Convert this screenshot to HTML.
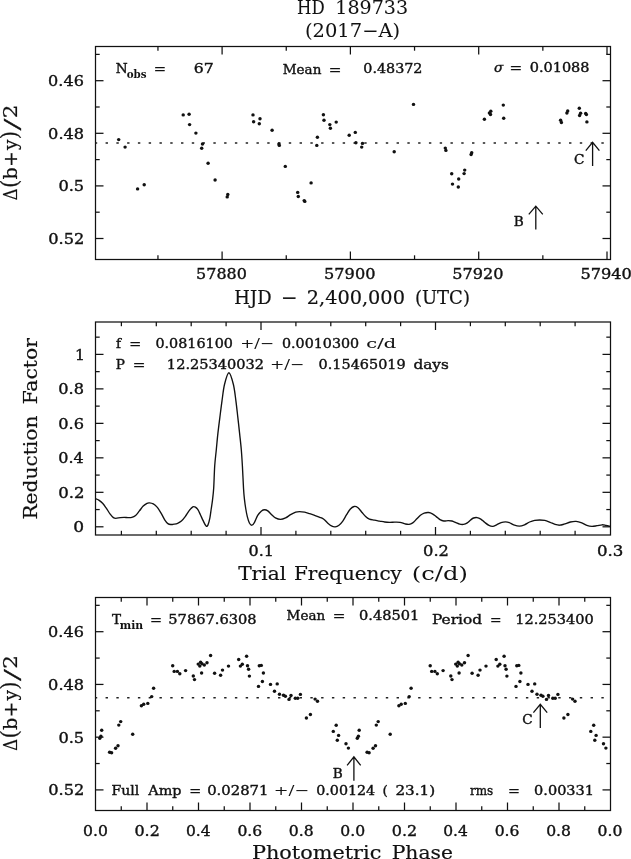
<!DOCTYPE html>
<html><head><meta charset="utf-8"><title>HD 189733 (2017-A)</title>
<style>
html,body{margin:0;padding:0;background:#fff;}
body{width:631px;height:859px;overflow:hidden;}
svg{display:block;}
text{font-family:"DejaVu Serif", "Liberation Serif", serif;fill:#111;stroke:#111;stroke-width:0.4px;}
</style></head><body>
<svg width="631" height="859" viewBox="0 0 631 859">
<rect width="631" height="859" fill="#fff"/>
<g stroke="#111" stroke-width="1.25" fill="none">
<rect x="95.5" y="46.5" width="515.00" height="213.00" fill="none"/>
<path d="M95.50 80.70L103.50 80.70"/>
<path d="M610.50 80.70L602.50 80.70"/>
<path d="M95.50 133.30L103.50 133.30"/>
<path d="M610.50 133.30L602.50 133.30"/>
<path d="M95.50 185.90L103.50 185.90"/>
<path d="M610.50 185.90L602.50 185.90"/>
<path d="M95.50 238.50L103.50 238.50"/>
<path d="M610.50 238.50L602.50 238.50"/>
<path d="M95.50 54.40L99.70 54.40"/>
<path d="M610.50 54.40L606.30 54.40"/>
<path d="M95.50 107.00L99.70 107.00"/>
<path d="M610.50 107.00L606.30 107.00"/>
<path d="M95.50 159.60L99.70 159.60"/>
<path d="M610.50 159.60L606.30 159.60"/>
<path d="M95.50 212.20L99.70 212.20"/>
<path d="M610.50 212.20L606.30 212.20"/>
<path d="M222.10 259.50L222.10 251.50"/>
<path d="M222.10 46.50L222.10 54.50"/>
<path d="M350.40 259.50L350.40 251.50"/>
<path d="M350.40 46.50L350.40 54.50"/>
<path d="M478.70 259.50L478.70 251.50"/>
<path d="M478.70 46.50L478.70 54.50"/>
<path d="M607.00 259.50L607.00 251.50"/>
<path d="M607.00 46.50L607.00 54.50"/>
<path d="M157.95 259.50L157.95 255.30"/>
<path d="M157.95 46.50L157.95 50.70"/>
<path d="M286.25 259.50L286.25 255.30"/>
<path d="M286.25 46.50L286.25 50.70"/>
<path d="M414.55 259.50L414.55 255.30"/>
<path d="M414.55 46.50L414.55 50.70"/>
<path d="M542.85 259.50L542.85 255.30"/>
<path d="M542.85 46.50L542.85 50.70"/>
<rect x="95.5" y="322.0" width="515.00" height="213.00" fill="none"/>
<path d="M95.50 526.80L103.50 526.80"/>
<path d="M610.50 526.80L602.50 526.80"/>
<path d="M95.50 492.32L103.50 492.32"/>
<path d="M610.50 492.32L602.50 492.32"/>
<path d="M95.50 457.84L103.50 457.84"/>
<path d="M610.50 457.84L602.50 457.84"/>
<path d="M95.50 423.36L103.50 423.36"/>
<path d="M610.50 423.36L602.50 423.36"/>
<path d="M95.50 388.88L103.50 388.88"/>
<path d="M610.50 388.88L602.50 388.88"/>
<path d="M95.50 354.40L103.50 354.40"/>
<path d="M610.50 354.40L602.50 354.40"/>
<path d="M95.50 509.56L99.70 509.56"/>
<path d="M610.50 509.56L606.30 509.56"/>
<path d="M95.50 475.08L99.70 475.08"/>
<path d="M610.50 475.08L606.30 475.08"/>
<path d="M95.50 440.60L99.70 440.60"/>
<path d="M610.50 440.60L606.30 440.60"/>
<path d="M95.50 406.12L99.70 406.12"/>
<path d="M610.50 406.12L606.30 406.12"/>
<path d="M95.50 371.64L99.70 371.64"/>
<path d="M610.50 371.64L606.30 371.64"/>
<path d="M95.50 337.16L99.70 337.16"/>
<path d="M610.50 337.16L606.30 337.16"/>
<path d="M261.00 535.00L261.00 527.00"/>
<path d="M261.00 322.00L261.00 330.00"/>
<path d="M435.50 535.00L435.50 527.00"/>
<path d="M435.50 322.00L435.50 330.00"/>
<path d="M121.40 535.00L121.40 530.80"/>
<path d="M121.40 322.00L121.40 326.20"/>
<path d="M156.30 535.00L156.30 530.80"/>
<path d="M156.30 322.00L156.30 326.20"/>
<path d="M191.20 535.00L191.20 530.80"/>
<path d="M191.20 322.00L191.20 326.20"/>
<path d="M226.10 535.00L226.10 530.80"/>
<path d="M226.10 322.00L226.10 326.20"/>
<path d="M295.90 535.00L295.90 530.80"/>
<path d="M295.90 322.00L295.90 326.20"/>
<path d="M330.80 535.00L330.80 530.80"/>
<path d="M330.80 322.00L330.80 326.20"/>
<path d="M365.70 535.00L365.70 530.80"/>
<path d="M365.70 322.00L365.70 326.20"/>
<path d="M400.60 535.00L400.60 530.80"/>
<path d="M400.60 322.00L400.60 326.20"/>
<path d="M470.40 535.00L470.40 530.80"/>
<path d="M470.40 322.00L470.40 326.20"/>
<path d="M505.30 535.00L505.30 530.80"/>
<path d="M505.30 322.00L505.30 326.20"/>
<path d="M540.20 535.00L540.20 530.80"/>
<path d="M540.20 322.00L540.20 326.20"/>
<path d="M575.10 535.00L575.10 530.80"/>
<path d="M575.10 322.00L575.10 326.20"/>
<rect x="95.5" y="597.5" width="515.00" height="213.00" fill="none"/>
<path d="M95.50 631.70L103.50 631.70"/>
<path d="M610.50 631.70L602.50 631.70"/>
<path d="M95.50 684.43L103.50 684.43"/>
<path d="M610.50 684.43L602.50 684.43"/>
<path d="M95.50 737.17L103.50 737.17"/>
<path d="M610.50 737.17L602.50 737.17"/>
<path d="M95.50 789.90L103.50 789.90"/>
<path d="M610.50 789.90L602.50 789.90"/>
<path d="M95.50 605.33L99.70 605.33"/>
<path d="M610.50 605.33L606.30 605.33"/>
<path d="M95.50 658.07L99.70 658.07"/>
<path d="M610.50 658.07L606.30 658.07"/>
<path d="M95.50 710.80L99.70 710.80"/>
<path d="M610.50 710.80L606.30 710.80"/>
<path d="M95.50 763.53L99.70 763.53"/>
<path d="M610.50 763.53L606.30 763.53"/>
<path d="M147.00 810.50L147.00 802.50"/>
<path d="M147.00 597.50L147.00 605.50"/>
<path d="M198.50 810.50L198.50 802.50"/>
<path d="M198.50 597.50L198.50 605.50"/>
<path d="M250.00 810.50L250.00 802.50"/>
<path d="M250.00 597.50L250.00 605.50"/>
<path d="M301.50 810.50L301.50 802.50"/>
<path d="M301.50 597.50L301.50 605.50"/>
<path d="M353.00 810.50L353.00 802.50"/>
<path d="M353.00 597.50L353.00 605.50"/>
<path d="M404.50 810.50L404.50 802.50"/>
<path d="M404.50 597.50L404.50 605.50"/>
<path d="M456.00 810.50L456.00 802.50"/>
<path d="M456.00 597.50L456.00 605.50"/>
<path d="M507.50 810.50L507.50 802.50"/>
<path d="M507.50 597.50L507.50 605.50"/>
<path d="M559.00 810.50L559.00 802.50"/>
<path d="M559.00 597.50L559.00 605.50"/>
<path d="M121.25 810.50L121.25 806.30"/>
<path d="M121.25 597.50L121.25 601.70"/>
<path d="M172.75 810.50L172.75 806.30"/>
<path d="M172.75 597.50L172.75 601.70"/>
<path d="M224.25 810.50L224.25 806.30"/>
<path d="M224.25 597.50L224.25 601.70"/>
<path d="M275.75 810.50L275.75 806.30"/>
<path d="M275.75 597.50L275.75 601.70"/>
<path d="M327.25 810.50L327.25 806.30"/>
<path d="M327.25 597.50L327.25 601.70"/>
<path d="M378.75 810.50L378.75 806.30"/>
<path d="M378.75 597.50L378.75 601.70"/>
<path d="M430.25 810.50L430.25 806.30"/>
<path d="M430.25 597.50L430.25 601.70"/>
<path d="M481.75 810.50L481.75 806.30"/>
<path d="M481.75 597.50L481.75 601.70"/>
<path d="M533.25 810.50L533.25 806.30"/>
<path d="M533.25 597.50L533.25 601.70"/>
<path d="M584.75 810.50L584.75 806.30"/>
<path d="M584.75 597.50L584.75 601.70"/>
</g>
<path d="M95.50 142.90H97.20 M105.58 142.90H107.98 M116.36 142.90H118.76 M127.13 142.90H129.53 M137.91 142.90H140.31 M148.69 142.90H151.09 M159.47 142.90H161.87 M170.25 142.90H172.65 M181.02 142.90H183.42 M191.80 142.90H194.20 M202.58 142.90H204.98 M213.36 142.90H215.76 M224.14 142.90H226.54 M234.91 142.90H237.31 M245.69 142.90H248.09 M256.47 142.90H258.87 M267.25 142.90H269.65 M278.03 142.90H280.43 M288.80 142.90H291.20 M299.58 142.90H301.98 M310.36 142.90H312.76 M321.14 142.90H323.54 M331.92 142.90H334.32 M342.69 142.90H345.09 M353.47 142.90H355.87 M364.25 142.90H366.65 M375.03 142.90H377.43 M385.81 142.90H388.21 M396.58 142.90H398.98 M407.36 142.90H409.76 M418.14 142.90H420.54 M428.92 142.90H431.32 M439.70 142.90H442.10 M450.47 142.90H452.87 M461.25 142.90H463.65 M472.03 142.90H474.43 M482.81 142.90H485.21 M493.59 142.90H495.99 M504.36 142.90H506.76 M515.14 142.90H517.54 M525.92 142.90H528.32 M536.70 142.90H539.10 M547.48 142.90H549.88 M558.25 142.90H560.65 M569.03 142.90H571.43 M579.81 142.90H582.21 M590.59 142.90H592.99 M601.37 142.90H603.77 M95.50 697.70H97.20 M105.58 697.70H107.98 M116.36 697.70H118.76 M127.13 697.70H129.53 M137.91 697.70H140.31 M148.69 697.70H151.09 M159.47 697.70H161.87 M170.25 697.70H172.65 M181.02 697.70H183.42 M191.80 697.70H194.20 M202.58 697.70H204.98 M213.36 697.70H215.76 M224.14 697.70H226.54 M234.91 697.70H237.31 M245.69 697.70H248.09 M256.47 697.70H258.87 M267.25 697.70H269.65 M278.03 697.70H280.43 M288.80 697.70H291.20 M299.58 697.70H301.98 M310.36 697.70H312.76 M321.14 697.70H323.54 M331.92 697.70H334.32 M342.69 697.70H345.09 M353.47 697.70H355.87 M364.25 697.70H366.65 M375.03 697.70H377.43 M385.81 697.70H388.21 M396.58 697.70H398.98 M407.36 697.70H409.76 M418.14 697.70H420.54 M428.92 697.70H431.32 M439.70 697.70H442.10 M450.47 697.70H452.87 M461.25 697.70H463.65 M472.03 697.70H474.43 M482.81 697.70H485.21 M493.59 697.70H495.99 M504.36 697.70H506.76 M515.14 697.70H517.54 M525.92 697.70H528.32 M536.70 697.70H539.10 M547.48 697.70H549.88 M558.25 697.70H560.65 M569.03 697.70H571.43 M579.81 697.70H582.21 M590.59 697.70H592.99 M601.37 697.70H603.77" stroke="#222" stroke-width="1.5" fill="none"/>
<path d="M95.40 498.70C95.97 498.93 97.60 499.33 98.80 500.10C100.00 500.87 101.33 501.92 102.60 503.30C103.87 504.68 105.13 506.60 106.40 508.40C107.67 510.20 109.03 512.57 110.20 514.10C111.37 515.63 112.45 516.90 113.40 517.60C114.35 518.30 114.73 518.30 115.90 518.30C117.07 518.30 119.02 517.75 120.40 517.60C121.78 517.45 122.93 517.40 124.20 517.40C125.47 517.40 126.73 517.60 128.00 517.60C129.27 517.60 130.53 517.77 131.80 517.40C133.07 517.03 134.33 516.48 135.60 515.40C136.87 514.32 138.13 512.45 139.40 510.90C140.67 509.35 141.93 507.37 143.20 506.10C144.47 504.83 145.95 503.83 147.00 503.30C148.05 502.77 148.45 502.80 149.50 502.90C150.55 503.00 152.03 503.20 153.30 503.90C154.57 504.60 155.83 505.62 157.10 507.10C158.37 508.58 159.63 510.68 160.90 512.80C162.17 514.92 163.53 518.00 164.70 519.80C165.87 521.60 166.83 522.82 167.90 523.60C168.97 524.38 170.12 524.40 171.10 524.50C172.08 524.60 172.72 524.40 173.80 524.20C174.88 524.00 176.33 523.82 177.60 523.30C178.87 522.78 180.13 522.22 181.40 521.10C182.67 519.98 183.93 518.30 185.20 516.60C186.47 514.90 187.73 512.52 189.00 510.90C190.27 509.28 191.73 507.53 192.80 506.90C193.87 506.27 194.55 506.63 195.40 507.10C196.25 507.57 197.07 508.43 197.90 509.70C198.73 510.97 199.55 512.92 200.40 514.70C201.25 516.48 202.05 518.50 203.00 520.40C203.95 522.30 205.27 525.35 206.10 526.10C206.93 526.85 207.37 526.27 208.00 524.90C208.63 523.53 209.37 520.55 209.90 517.90C210.43 515.25 210.77 511.97 211.20 509.00C211.63 506.03 212.08 503.60 212.50 500.10C212.92 496.60 213.33 493.68 213.70 488.00C214.07 482.32 214.27 472.38 214.70 466.00C215.13 459.62 215.77 455.13 216.30 449.70C216.83 444.27 217.30 438.83 217.90 433.40C218.50 427.97 219.22 422.53 219.90 417.10C220.58 411.67 221.23 406.23 222.00 400.80C222.77 395.37 223.35 389.18 224.50 384.50C225.65 379.82 227.42 372.70 228.90 372.70C230.38 372.70 232.23 379.82 233.40 384.50C234.57 389.18 235.17 395.37 235.90 400.80C236.63 406.23 237.18 411.67 237.80 417.10C238.42 422.53 239.02 427.97 239.60 433.40C240.18 438.83 240.83 444.27 241.30 449.70C241.77 455.13 242.03 459.62 242.40 466.00C242.77 472.38 243.17 482.52 243.50 488.00C243.83 493.48 244.02 495.40 244.40 498.90C244.78 502.40 245.32 506.05 245.80 509.00C246.28 511.95 246.70 514.27 247.30 516.60C247.90 518.93 248.62 521.57 249.40 523.00C250.18 524.43 251.15 525.32 252.00 525.20C252.85 525.08 253.55 523.93 254.50 522.30C255.45 520.67 256.53 517.30 257.70 515.40C258.87 513.50 260.33 511.85 261.50 510.90C262.67 509.95 263.65 509.70 264.70 509.70C265.75 509.70 266.65 510.07 267.80 510.90C268.95 511.73 270.33 513.53 271.60 514.70C272.87 515.87 273.92 517.12 275.40 517.90C276.88 518.68 278.80 519.40 280.50 519.40C282.20 519.40 283.92 518.68 285.60 517.90C287.28 517.12 288.92 515.65 290.60 514.70C292.28 513.75 294.22 512.72 295.70 512.20C297.18 511.68 298.02 511.60 299.50 511.60C300.98 511.60 302.90 511.85 304.60 512.20C306.30 512.55 308.02 513.17 309.70 513.70C311.38 514.23 313.02 514.80 314.70 515.40C316.38 516.00 318.28 516.67 319.80 517.30C321.32 517.93 322.50 518.25 323.80 519.20C325.10 520.15 326.33 521.88 327.60 523.00C328.87 524.12 330.13 525.27 331.40 525.90C332.67 526.53 333.93 526.92 335.20 526.80C336.47 526.68 337.73 526.15 339.00 525.20C340.27 524.25 341.53 522.85 342.80 521.10C344.07 519.35 345.33 516.72 346.60 514.70C347.87 512.68 349.13 510.37 350.40 509.00C351.67 507.63 352.93 506.72 354.20 506.50C355.47 506.28 356.73 506.75 358.00 507.70C359.27 508.65 360.53 510.72 361.80 512.20C363.07 513.68 364.33 515.43 365.60 516.60C366.87 517.77 367.92 518.60 369.40 519.20C370.88 519.80 372.80 519.88 374.50 520.20C376.20 520.52 377.90 520.80 379.60 521.10C381.30 521.40 383.02 521.80 384.70 522.00C386.38 522.20 388.02 522.28 389.70 522.30C391.38 522.32 393.07 522.10 394.80 522.10C396.53 522.10 398.38 522.00 400.10 522.30C401.82 522.60 403.62 523.55 405.10 523.90C406.58 524.25 407.73 524.57 409.00 524.40C410.27 524.23 411.43 523.78 412.70 522.90C413.97 522.02 415.32 520.37 416.60 519.10C417.88 517.83 419.13 516.30 420.40 515.30C421.67 514.30 422.83 513.57 424.20 513.10C425.57 512.63 427.23 512.38 428.60 512.50C429.97 512.62 431.13 513.12 432.40 513.80C433.67 514.48 434.93 515.62 436.20 516.60C437.47 517.58 438.73 518.97 440.00 519.70C441.27 520.43 442.43 520.85 443.80 521.00C445.17 521.15 446.83 520.60 448.20 520.60C449.57 520.60 450.72 520.67 452.00 521.00C453.28 521.33 454.62 522.07 455.90 522.60C457.18 523.13 458.43 523.90 459.70 524.20C460.97 524.50 462.23 524.62 463.50 524.40C464.77 524.18 466.12 523.63 467.30 522.90C468.48 522.17 469.55 520.82 470.60 520.00C471.65 519.18 472.53 518.40 473.60 518.00C474.67 517.60 475.80 517.42 477.00 517.60C478.20 517.78 479.53 518.32 480.80 519.10C482.07 519.88 483.23 521.25 484.60 522.30C485.97 523.35 487.63 524.73 489.00 525.40C490.37 526.07 491.53 526.40 492.80 526.30C494.07 526.20 495.22 525.42 496.60 524.80C497.98 524.18 499.62 523.08 501.10 522.60C502.58 522.12 504.13 521.90 505.50 521.90C506.87 521.90 507.93 522.12 509.30 522.60C510.67 523.08 512.02 524.22 513.70 524.80C515.38 525.38 517.60 526.10 519.40 526.10C521.20 526.10 522.80 525.48 524.50 524.80C526.20 524.12 527.90 522.73 529.60 522.00C531.30 521.27 533.02 520.73 534.70 520.40C536.38 520.07 538.02 520.00 539.70 520.00C541.38 520.00 543.07 520.02 544.80 520.40C546.53 520.78 548.38 521.63 550.10 522.30C551.82 522.97 553.52 523.92 555.10 524.40C556.68 524.88 558.12 525.23 559.60 525.20C561.08 525.17 562.20 524.73 564.00 524.20C565.80 523.67 568.38 522.47 570.40 522.00C572.42 521.53 574.20 521.25 576.10 521.40C578.00 521.55 580.02 522.23 581.80 522.90C583.58 523.57 585.12 524.82 586.80 525.40C588.48 525.98 590.20 526.35 591.90 526.40C593.60 526.45 595.30 525.97 597.00 525.70C598.70 525.43 600.62 524.85 602.10 524.80C603.58 524.75 604.58 525.13 605.90 525.40C607.22 525.67 609.32 526.23 610.00 526.40" stroke="#111" stroke-width="1.35" fill="none" stroke-linejoin="round"/>
<path d="M535.80 229.40V206.20M528.80 214.40L535.80 206.20L542.80 214.40 M592.60 165.90V142.30M585.80 150.60L592.60 142.30L599.40 150.60 M353.90 780.70V756.90M347.10 765.40L353.90 756.90L360.70 765.40 M540.30 727.90V704.30M533.40 712.60L540.30 704.30L547.20 712.60" stroke="#111" stroke-width="1.3" fill="none"/>
<g fill="#111">
<circle cx="118.70" cy="139.60" r="1.72"/>
<circle cx="125.10" cy="147.10" r="1.72"/>
<circle cx="137.60" cy="188.90" r="1.72"/>
<circle cx="144.20" cy="184.80" r="1.72"/>
<circle cx="183.20" cy="114.90" r="1.72"/>
<circle cx="189.10" cy="114.30" r="1.72"/>
<circle cx="189.60" cy="124.60" r="1.72"/>
<circle cx="195.90" cy="133.10" r="1.72"/>
<circle cx="202.50" cy="144.00" r="1.72"/>
<circle cx="201.70" cy="148.30" r="1.72"/>
<circle cx="208.10" cy="163.30" r="1.72"/>
<circle cx="215.10" cy="180.00" r="1.72"/>
<circle cx="227.80" cy="194.50" r="1.72"/>
<circle cx="227.20" cy="196.90" r="1.72"/>
<circle cx="253.00" cy="114.90" r="1.72"/>
<circle cx="253.60" cy="121.70" r="1.72"/>
<circle cx="260.00" cy="118.80" r="1.72"/>
<circle cx="259.30" cy="123.80" r="1.72"/>
<circle cx="272.10" cy="130.20" r="1.72"/>
<circle cx="278.90" cy="144.00" r="1.72"/>
<circle cx="279.30" cy="145.40" r="1.72"/>
<circle cx="285.30" cy="166.40" r="1.72"/>
<circle cx="297.70" cy="192.40" r="1.72"/>
<circle cx="298.30" cy="196.50" r="1.72"/>
<circle cx="304.20" cy="200.60" r="1.72"/>
<circle cx="304.80" cy="201.40" r="1.72"/>
<circle cx="311.10" cy="182.90" r="1.72"/>
<circle cx="317.40" cy="137.20" r="1.72"/>
<circle cx="316.80" cy="145.40" r="1.72"/>
<circle cx="323.40" cy="114.70" r="1.72"/>
<circle cx="324.00" cy="120.30" r="1.72"/>
<circle cx="329.80" cy="124.60" r="1.72"/>
<circle cx="330.40" cy="128.30" r="1.72"/>
<circle cx="336.20" cy="122.10" r="1.72"/>
<circle cx="349.20" cy="135.20" r="1.72"/>
<circle cx="355.30" cy="132.40" r="1.72"/>
<circle cx="355.90" cy="142.70" r="1.72"/>
<circle cx="362.50" cy="143.40" r="1.72"/>
<circle cx="361.70" cy="147.10" r="1.72"/>
<circle cx="394.20" cy="151.80" r="1.72"/>
<circle cx="413.50" cy="104.40" r="1.72"/>
<circle cx="445.30" cy="148.10" r="1.72"/>
<circle cx="445.90" cy="150.40" r="1.72"/>
<circle cx="451.70" cy="173.80" r="1.72"/>
<circle cx="452.50" cy="184.10" r="1.72"/>
<circle cx="458.30" cy="187.00" r="1.72"/>
<circle cx="458.70" cy="179.00" r="1.72"/>
<circle cx="464.10" cy="173.60" r="1.72"/>
<circle cx="464.70" cy="170.10" r="1.72"/>
<circle cx="471.10" cy="154.50" r="1.72"/>
<circle cx="471.70" cy="152.80" r="1.72"/>
<circle cx="484.40" cy="119.30" r="1.72"/>
<circle cx="490.80" cy="111.30" r="1.72"/>
<circle cx="489.40" cy="112.90" r="1.72"/>
<circle cx="490.50" cy="114.50" r="1.72"/>
<circle cx="503.30" cy="105.10" r="1.72"/>
<circle cx="503.70" cy="118.20" r="1.72"/>
<circle cx="560.60" cy="120.20" r="1.72"/>
<circle cx="561.40" cy="122.50" r="1.72"/>
<circle cx="567.70" cy="110.90" r="1.72"/>
<circle cx="566.90" cy="113.00" r="1.72"/>
<circle cx="579.30" cy="108.20" r="1.72"/>
<circle cx="579.60" cy="115.50" r="1.72"/>
<circle cx="580.60" cy="113.20" r="1.72"/>
<circle cx="585.70" cy="113.40" r="1.72"/>
<circle cx="586.40" cy="114.60" r="1.72"/>
<circle cx="586.90" cy="121.90" r="1.72"/>
<circle cx="99.80" cy="738.30" r="1.72"/>
<circle cx="100.90" cy="736.20" r="1.72"/>
<circle cx="101.70" cy="730.30" r="1.72"/>
<circle cx="109.60" cy="752.20" r="1.72"/>
<circle cx="111.60" cy="752.80" r="1.72"/>
<circle cx="115.60" cy="748.20" r="1.72"/>
<circle cx="118.00" cy="745.70" r="1.72"/>
<circle cx="118.80" cy="725.10" r="1.72"/>
<circle cx="120.70" cy="721.60" r="1.72"/>
<circle cx="132.70" cy="734.30" r="1.72"/>
<circle cx="141.40" cy="705.80" r="1.72"/>
<circle cx="143.70" cy="704.20" r="1.72"/>
<circle cx="147.80" cy="703.40" r="1.72"/>
<circle cx="151.70" cy="696.60" r="1.72"/>
<circle cx="153.60" cy="688.30" r="1.72"/>
<circle cx="172.70" cy="665.80" r="1.72"/>
<circle cx="174.20" cy="671.40" r="1.72"/>
<circle cx="177.40" cy="671.40" r="1.72"/>
<circle cx="179.80" cy="673.80" r="1.72"/>
<circle cx="185.60" cy="670.60" r="1.72"/>
<circle cx="193.30" cy="676.00" r="1.72"/>
<circle cx="194.50" cy="679.60" r="1.72"/>
<circle cx="198.20" cy="664.10" r="1.72"/>
<circle cx="199.80" cy="666.10" r="1.72"/>
<circle cx="200.60" cy="662.20" r="1.72"/>
<circle cx="201.90" cy="663.80" r="1.72"/>
<circle cx="204.30" cy="665.00" r="1.72"/>
<circle cx="207.00" cy="662.70" r="1.72"/>
<circle cx="201.60" cy="673.00" r="1.72"/>
<circle cx="210.60" cy="655.50" r="1.72"/>
<circle cx="214.60" cy="673.30" r="1.72"/>
<circle cx="220.60" cy="675.20" r="1.72"/>
<circle cx="222.50" cy="670.10" r="1.72"/>
<circle cx="228.50" cy="666.10" r="1.72"/>
<circle cx="238.70" cy="659.50" r="1.72"/>
<circle cx="240.40" cy="666.10" r="1.72"/>
<circle cx="242.30" cy="664.20" r="1.72"/>
<circle cx="246.60" cy="656.30" r="1.72"/>
<circle cx="247.50" cy="665.70" r="1.72"/>
<circle cx="248.60" cy="669.30" r="1.72"/>
<circle cx="249.40" cy="676.10" r="1.72"/>
<circle cx="259.30" cy="665.70" r="1.72"/>
<circle cx="261.30" cy="665.40" r="1.72"/>
<circle cx="263.40" cy="673.00" r="1.72"/>
<circle cx="262.40" cy="681.50" r="1.72"/>
<circle cx="258.50" cy="686.40" r="1.72"/>
<circle cx="270.50" cy="684.40" r="1.72"/>
<circle cx="277.20" cy="683.90" r="1.72"/>
<circle cx="274.50" cy="691.20" r="1.72"/>
<circle cx="279.50" cy="694.20" r="1.72"/>
<circle cx="283.50" cy="695.20" r="1.72"/>
<circle cx="285.40" cy="696.30" r="1.72"/>
<circle cx="289.00" cy="699.40" r="1.72"/>
<circle cx="291.00" cy="695.50" r="1.72"/>
<circle cx="295.30" cy="698.30" r="1.72"/>
<circle cx="297.70" cy="698.30" r="1.72"/>
<circle cx="300.40" cy="694.40" r="1.72"/>
<circle cx="315.10" cy="699.10" r="1.72"/>
<circle cx="317.50" cy="701.20" r="1.72"/>
<circle cx="306.40" cy="718.00" r="1.72"/>
<circle cx="310.40" cy="714.50" r="1.72"/>
<circle cx="336.20" cy="725.30" r="1.72"/>
<circle cx="333.30" cy="731.40" r="1.72"/>
<circle cx="338.60" cy="735.40" r="1.72"/>
<circle cx="337.30" cy="740.20" r="1.72"/>
<circle cx="346.00" cy="743.80" r="1.72"/>
<circle cx="348.40" cy="748.10" r="1.72"/>
<circle cx="357.30" cy="738.30" r="1.72"/>
<circle cx="358.40" cy="736.20" r="1.72"/>
<circle cx="359.20" cy="730.30" r="1.72"/>
<circle cx="367.10" cy="752.20" r="1.72"/>
<circle cx="369.10" cy="752.80" r="1.72"/>
<circle cx="373.10" cy="748.20" r="1.72"/>
<circle cx="375.50" cy="745.70" r="1.72"/>
<circle cx="376.30" cy="725.10" r="1.72"/>
<circle cx="378.20" cy="721.60" r="1.72"/>
<circle cx="390.20" cy="734.30" r="1.72"/>
<circle cx="398.90" cy="705.80" r="1.72"/>
<circle cx="401.20" cy="704.20" r="1.72"/>
<circle cx="405.30" cy="703.40" r="1.72"/>
<circle cx="409.20" cy="696.60" r="1.72"/>
<circle cx="411.10" cy="688.30" r="1.72"/>
<circle cx="430.20" cy="665.80" r="1.72"/>
<circle cx="431.70" cy="671.40" r="1.72"/>
<circle cx="434.90" cy="671.40" r="1.72"/>
<circle cx="437.30" cy="673.80" r="1.72"/>
<circle cx="443.10" cy="670.60" r="1.72"/>
<circle cx="450.80" cy="676.00" r="1.72"/>
<circle cx="452.00" cy="679.60" r="1.72"/>
<circle cx="455.70" cy="664.10" r="1.72"/>
<circle cx="457.30" cy="666.10" r="1.72"/>
<circle cx="458.10" cy="662.20" r="1.72"/>
<circle cx="459.40" cy="663.80" r="1.72"/>
<circle cx="461.80" cy="665.00" r="1.72"/>
<circle cx="464.50" cy="662.70" r="1.72"/>
<circle cx="459.10" cy="673.00" r="1.72"/>
<circle cx="468.10" cy="655.50" r="1.72"/>
<circle cx="472.10" cy="673.30" r="1.72"/>
<circle cx="478.10" cy="675.20" r="1.72"/>
<circle cx="480.00" cy="670.10" r="1.72"/>
<circle cx="486.00" cy="666.10" r="1.72"/>
<circle cx="496.20" cy="659.50" r="1.72"/>
<circle cx="497.90" cy="666.10" r="1.72"/>
<circle cx="499.80" cy="664.20" r="1.72"/>
<circle cx="504.10" cy="656.30" r="1.72"/>
<circle cx="505.00" cy="665.70" r="1.72"/>
<circle cx="506.10" cy="669.30" r="1.72"/>
<circle cx="506.90" cy="676.10" r="1.72"/>
<circle cx="516.80" cy="665.70" r="1.72"/>
<circle cx="518.80" cy="665.40" r="1.72"/>
<circle cx="520.90" cy="673.00" r="1.72"/>
<circle cx="519.90" cy="681.50" r="1.72"/>
<circle cx="516.00" cy="686.40" r="1.72"/>
<circle cx="528.00" cy="684.40" r="1.72"/>
<circle cx="534.70" cy="683.90" r="1.72"/>
<circle cx="532.00" cy="691.20" r="1.72"/>
<circle cx="537.00" cy="694.20" r="1.72"/>
<circle cx="541.00" cy="695.20" r="1.72"/>
<circle cx="542.90" cy="696.30" r="1.72"/>
<circle cx="546.50" cy="699.40" r="1.72"/>
<circle cx="548.50" cy="695.50" r="1.72"/>
<circle cx="552.80" cy="698.30" r="1.72"/>
<circle cx="555.20" cy="698.30" r="1.72"/>
<circle cx="557.90" cy="694.40" r="1.72"/>
<circle cx="572.60" cy="699.10" r="1.72"/>
<circle cx="575.00" cy="701.20" r="1.72"/>
<circle cx="563.90" cy="718.00" r="1.72"/>
<circle cx="567.90" cy="714.50" r="1.72"/>
<circle cx="593.70" cy="725.30" r="1.72"/>
<circle cx="590.80" cy="731.40" r="1.72"/>
<circle cx="596.10" cy="735.40" r="1.72"/>
<circle cx="594.80" cy="740.20" r="1.72"/>
<circle cx="603.50" cy="743.80" r="1.72"/>
<circle cx="605.90" cy="748.10" r="1.72"/>
</g>
<g>
<text x="297.09" y="13.90" font-size="18.3" textLength="27.71" lengthAdjust="spacingAndGlyphs" style="stroke-width:0.05px;">HD</text>
<text x="335.35" y="13.90" font-size="18.3" textLength="72.80" lengthAdjust="spacingAndGlyphs" style="stroke-width:0.05px;">189733</text>
<text x="305.00" y="36.60" font-size="18.3" textLength="95.09" lengthAdjust="spacingAndGlyphs" style="stroke-width:0.05px;">(2017−A)</text>
<text x="115.70" y="72.60" font-size="13.6">N</text>
<text x="126.65" y="77.80" font-size="11.5" textLength="19.84" lengthAdjust="spacingAndGlyphs" font-weight="bold" style="stroke-width:0px;">obs</text>
<text x="153.65" y="72.60" font-size="13.6" textLength="12.28" lengthAdjust="spacingAndGlyphs">=</text>
<text x="193.74" y="72.60" font-size="13.6" textLength="19.90" lengthAdjust="spacingAndGlyphs">67</text>
<text x="282.70" y="73.70" font-size="13.6" textLength="38.68" lengthAdjust="spacingAndGlyphs">Mean</text>
<text x="328.71" y="73.70" font-size="13.6" textLength="12.66" lengthAdjust="spacingAndGlyphs">=</text>
<text x="363.31" y="72.60" font-size="13.6" textLength="59.17" lengthAdjust="spacingAndGlyphs">0.48372</text>
<text x="493.90" y="72.40" font-size="13.6" font-style="italic">σ</text>
<text x="509.61" y="72.40" font-size="13.6" textLength="12.66" lengthAdjust="spacingAndGlyphs">=</text>
<text x="529.70" y="72.40" font-size="13.6" textLength="59.86" lengthAdjust="spacingAndGlyphs">0.01088</text>
<text x="513.80" y="226.40" font-size="13.6">B</text>
<text x="573.90" y="163.90" font-size="13.6">C</text>
<text x="196.12" y="279.40" font-size="15.6" textLength="50.76" lengthAdjust="spacingAndGlyphs">57880</text>
<text x="324.11" y="279.40" font-size="15.6" textLength="51.28" lengthAdjust="spacingAndGlyphs">57900</text>
<text x="452.31" y="279.40" font-size="15.6" textLength="51.18" lengthAdjust="spacingAndGlyphs">57920</text>
<text x="580.40" y="279.40" font-size="15.6" textLength="51.49" lengthAdjust="spacingAndGlyphs">57940</text>
<text x="234.35" y="303.60" font-size="19.0" textLength="37.32" lengthAdjust="spacingAndGlyphs" style="stroke-width:0.2px;">HJD</text>
<text x="281.13" y="303.60" font-size="19.0" textLength="16.45" lengthAdjust="spacingAndGlyphs" style="stroke-width:0.2px;">−</text>
<text x="306.73" y="303.60" font-size="19.0" textLength="98.19" lengthAdjust="spacingAndGlyphs" style="stroke-width:0.2px;">2,400,000</text>
<text x="414.88" y="303.60" font-size="19.0" textLength="55.07" lengthAdjust="spacingAndGlyphs" style="stroke-width:0.2px;">(UTC)</text>
<text x="48.13" y="85.80" font-size="15.6" textLength="35.73" lengthAdjust="spacingAndGlyphs">0.46</text>
<text x="48.12" y="138.60" font-size="15.6" textLength="36.00" lengthAdjust="spacingAndGlyphs">0.48</text>
<text x="58.42" y="191.40" font-size="15.6" textLength="25.78" lengthAdjust="spacingAndGlyphs">0.5</text>
<text x="48.22" y="244.20" font-size="15.6" textLength="36.17" lengthAdjust="spacingAndGlyphs">0.52</text>
<text x="48.13" y="636.90" font-size="15.6" textLength="35.73" lengthAdjust="spacingAndGlyphs">0.46</text>
<text x="48.12" y="689.80" font-size="15.6" textLength="36.00" lengthAdjust="spacingAndGlyphs">0.48</text>
<text x="58.42" y="742.60" font-size="15.6" textLength="25.78" lengthAdjust="spacingAndGlyphs">0.5</text>
<text x="48.22" y="795.40" font-size="15.6" textLength="36.17" lengthAdjust="spacingAndGlyphs">0.52</text>
<text x="116.05" y="347.70" font-size="13.6">f</text>
<text x="129.18" y="347.70" font-size="13.6" textLength="12.02" lengthAdjust="spacingAndGlyphs">=</text>
<text x="155.41" y="347.70" font-size="13.6" textLength="77.50" lengthAdjust="spacingAndGlyphs">0.0816100</text>
<text x="240.24" y="347.70" font-size="13.6" textLength="33.97" lengthAdjust="spacingAndGlyphs" style="stroke-width:0px;">+/−</text>
<text x="282.01" y="347.70" font-size="13.6" textLength="77.19" lengthAdjust="spacingAndGlyphs">0.0010300</text>
<text x="366.29" y="347.70" font-size="13.6" textLength="29.79" lengthAdjust="spacingAndGlyphs" style="stroke-width:0.1px;">c/d</text>
<text x="115.80" y="369.10" font-size="13.6">P</text>
<text x="132.81" y="369.10" font-size="13.6" textLength="12.66" lengthAdjust="spacingAndGlyphs">=</text>
<text x="166.89" y="369.10" font-size="13.6" textLength="97.24" lengthAdjust="spacingAndGlyphs">12.25340032</text>
<text x="269.91" y="369.10" font-size="13.6" textLength="34.53" lengthAdjust="spacingAndGlyphs" style="stroke-width:0px;">+/−</text>
<text x="318.61" y="369.10" font-size="13.6" textLength="87.01" lengthAdjust="spacingAndGlyphs">0.15465019</text>
<text x="413.44" y="369.10" font-size="13.6" textLength="35.39" lengthAdjust="spacingAndGlyphs">days</text>
<text x="73.28" y="532.40" font-size="15.6" textLength="10.82" lengthAdjust="spacingAndGlyphs">0</text>
<text x="58.21" y="497.92" font-size="15.6" textLength="26.28" lengthAdjust="spacingAndGlyphs">0.2</text>
<text x="58.23" y="463.44" font-size="15.6" textLength="25.45" lengthAdjust="spacingAndGlyphs">0.4</text>
<text x="58.22" y="428.96" font-size="15.6" textLength="25.72" lengthAdjust="spacingAndGlyphs">0.6</text>
<text x="58.22" y="394.48" font-size="15.6" textLength="25.72" lengthAdjust="spacingAndGlyphs">0.8</text>
<text x="75.10" y="360.00" font-size="15.6">1</text>
<text x="248.53" y="555.60" font-size="15.6" textLength="25.38" lengthAdjust="spacingAndGlyphs">0.1</text>
<text x="423.02" y="555.60" font-size="15.6" textLength="25.96" lengthAdjust="spacingAndGlyphs">0.2</text>
<text x="596.90" y="555.60" font-size="15.6" textLength="26.43" lengthAdjust="spacingAndGlyphs">0.3</text>
<text x="238.20" y="579.60" font-size="19.0" textLength="47.93" lengthAdjust="spacingAndGlyphs" style="stroke-width:0.2px;">Trial</text>
<text x="294.05" y="579.60" font-size="19.0" textLength="107.77" lengthAdjust="spacingAndGlyphs" style="stroke-width:0.2px;">Frequency</text>
<text x="411.89" y="579.60" font-size="19.0" textLength="56.06" lengthAdjust="spacingAndGlyphs" style="stroke-width:0px;">(c/d)</text>
<text x="112.00" y="623.80" font-size="13.6">T</text>
<text x="119.73" y="629.30" font-size="11.5" textLength="23.42" lengthAdjust="spacingAndGlyphs" font-weight="bold" style="stroke-width:0px;">min</text>
<text x="149.98" y="623.80" font-size="13.6" textLength="12.02" lengthAdjust="spacingAndGlyphs">=</text>
<text x="168.33" y="623.80" font-size="13.6" textLength="88.30" lengthAdjust="spacingAndGlyphs">57867.6308</text>
<text x="286.60" y="620.30" font-size="13.6" textLength="38.57" lengthAdjust="spacingAndGlyphs">Mean</text>
<text x="332.81" y="620.30" font-size="13.6" textLength="12.66" lengthAdjust="spacingAndGlyphs">=</text>
<text x="359.10" y="620.30" font-size="13.6" textLength="60.25" lengthAdjust="spacingAndGlyphs">0.48501</text>
<text x="431.94" y="623.50" font-size="13.6" textLength="50.02" lengthAdjust="spacingAndGlyphs">Period</text>
<text x="489.94" y="623.50" font-size="13.6" textLength="11.52" lengthAdjust="spacingAndGlyphs">=</text>
<text x="515.20" y="623.50" font-size="13.6" textLength="78.62" lengthAdjust="spacingAndGlyphs">12.253400</text>
<text x="111.48" y="794.70" font-size="13.6" textLength="27.86" lengthAdjust="spacingAndGlyphs">Full</text>
<text x="148.36" y="794.70" font-size="13.6" textLength="33.18" lengthAdjust="spacingAndGlyphs">Amp</text>
<text x="189.28" y="794.70" font-size="13.6" textLength="12.02" lengthAdjust="spacingAndGlyphs">=</text>
<text x="207.18" y="794.70" font-size="13.6" textLength="61.29" lengthAdjust="spacingAndGlyphs">0.02871</text>
<text x="273.86" y="794.70" font-size="13.6" textLength="35.42" lengthAdjust="spacingAndGlyphs" style="stroke-width:0px;">+/−</text>
<text x="316.21" y="794.70" font-size="13.6" textLength="58.98" lengthAdjust="spacingAndGlyphs">0.00124</text>
<text x="382.60" y="794.70" font-size="13.6">(</text>
<text x="395.46" y="794.70" font-size="13.6" textLength="39.76" lengthAdjust="spacingAndGlyphs">23.1)</text>
<text x="469.98" y="794.70" font-size="13.6" textLength="23.17" lengthAdjust="spacingAndGlyphs">rms</text>
<text x="507.99" y="794.70" font-size="13.6" textLength="11.90" lengthAdjust="spacingAndGlyphs">=</text>
<text x="534.10" y="794.70" font-size="13.6" textLength="59.93" lengthAdjust="spacingAndGlyphs">0.00331</text>
<text x="332.80" y="777.50" font-size="13.6">B</text>
<text x="522.20" y="724.10" font-size="13.6">C</text>
<text x="83.00" y="836.20" font-size="15.6">0.0</text>
<text x="134.44" y="836.20" font-size="15.6" textLength="25.41" lengthAdjust="spacingAndGlyphs">0.2</text>
<text x="185.93" y="836.20" font-size="15.6" textLength="24.60" lengthAdjust="spacingAndGlyphs">0.4</text>
<text x="237.38" y="836.20" font-size="15.6">0.6</text>
<text x="288.84" y="836.20" font-size="15.6">0.8</text>
<text x="340.30" y="836.20" font-size="15.6">0.0</text>
<text x="391.74" y="836.20" font-size="15.6" textLength="25.41" lengthAdjust="spacingAndGlyphs">0.2</text>
<text x="443.23" y="836.20" font-size="15.6" textLength="24.60" lengthAdjust="spacingAndGlyphs">0.4</text>
<text x="494.68" y="836.20" font-size="15.6">0.6</text>
<text x="546.14" y="836.20" font-size="15.6">0.8</text>
<text x="597.60" y="836.20" font-size="15.6">0.0</text>
<text x="252.01" y="858.70" font-size="19.0" textLength="129.30" lengthAdjust="spacingAndGlyphs" style="stroke-width:0.2px;">Photometric</text>
<text x="391.73" y="858.70" font-size="19.0" textLength="61.17" lengthAdjust="spacingAndGlyphs" style="stroke-width:0.2px;">Phase</text>
<text transform="translate(17.10 200.14) rotate(-90)" font-size="19.0" textLength="11.77" lengthAdjust="spacingAndGlyphs" style="stroke-width:0.2px;">Δ</text>
<text transform="translate(15.75 187.03) rotate(-90)" font-size="23.5" textLength="6.51" lengthAdjust="spacingAndGlyphs" style="stroke-width:0.3px;font-family:'Liberation Serif', serif;">(</text>
<text transform="translate(16.65 179.41) rotate(-90)" font-size="19.0" textLength="12.34" lengthAdjust="spacingAndGlyphs" style="stroke-width:0.2px;">b</text>
<text transform="translate(16.80 166.88) rotate(-90)" font-size="19.0" textLength="15.79" lengthAdjust="spacingAndGlyphs" style="stroke-width:0.2px;">+</text>
<text transform="translate(16.75 150.05) rotate(-90)" font-size="19.0" textLength="10.54" lengthAdjust="spacingAndGlyphs" style="stroke-width:0.2px;">y</text>
<text transform="translate(16.00 138.53) rotate(-90)" font-size="23.5" textLength="6.74" lengthAdjust="spacingAndGlyphs" style="stroke-width:0.3px;font-family:'Liberation Serif', serif;">)</text>
<text transform="translate(20.75 130.40) rotate(-90)" font-size="24.5" textLength="11.87" lengthAdjust="spacingAndGlyphs" style="stroke-width:0.3px;font-family:'Liberation Serif', serif;">/</text>
<text transform="translate(16.80 118.22) rotate(-90)" font-size="19.0" textLength="13.71" lengthAdjust="spacingAndGlyphs" style="stroke-width:0.2px;">2</text>
<text transform="translate(17.10 750.64) rotate(-90)" font-size="19.0" textLength="11.77" lengthAdjust="spacingAndGlyphs" style="stroke-width:0.2px;">Δ</text>
<text transform="translate(15.75 737.53) rotate(-90)" font-size="23.5" textLength="6.51" lengthAdjust="spacingAndGlyphs" style="stroke-width:0.3px;font-family:'Liberation Serif', serif;">(</text>
<text transform="translate(16.65 729.91) rotate(-90)" font-size="19.0" textLength="12.34" lengthAdjust="spacingAndGlyphs" style="stroke-width:0.2px;">b</text>
<text transform="translate(16.80 717.38) rotate(-90)" font-size="19.0" textLength="15.79" lengthAdjust="spacingAndGlyphs" style="stroke-width:0.2px;">+</text>
<text transform="translate(16.75 700.55) rotate(-90)" font-size="19.0" textLength="10.54" lengthAdjust="spacingAndGlyphs" style="stroke-width:0.2px;">y</text>
<text transform="translate(16.00 689.03) rotate(-90)" font-size="23.5" textLength="6.74" lengthAdjust="spacingAndGlyphs" style="stroke-width:0.3px;font-family:'Liberation Serif', serif;">)</text>
<text transform="translate(20.75 680.90) rotate(-90)" font-size="24.5" textLength="11.87" lengthAdjust="spacingAndGlyphs" style="stroke-width:0.3px;font-family:'Liberation Serif', serif;">/</text>
<text transform="translate(16.80 668.72) rotate(-90)" font-size="19.0" textLength="13.71" lengthAdjust="spacingAndGlyphs" style="stroke-width:0.2px;">2</text>
<text transform="translate(36.60 519.56) rotate(-90)" font-size="19.0" textLength="103.98" lengthAdjust="spacingAndGlyphs" style="stroke-width:0.2px;">Reduction</text>
<text transform="translate(36.60 404.37) rotate(-90)" font-size="19.0" textLength="66.30" lengthAdjust="spacingAndGlyphs" style="stroke-width:0.2px;">Factor</text>
</g>
</svg>
</body></html>
